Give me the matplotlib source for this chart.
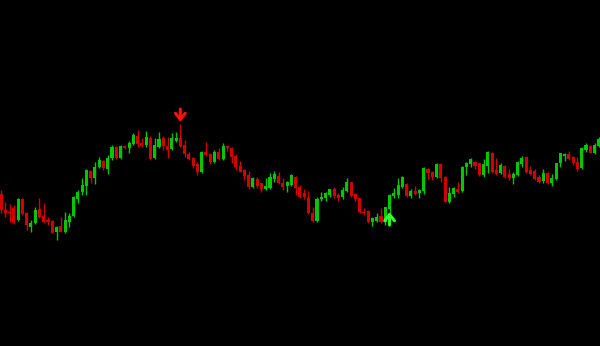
import matplotlib
matplotlib.use("Agg")
import matplotlib.pyplot as plt
import numpy as np

# OHLC (price units, arbitrary scale)
opens = [152, 136, 134, 138, 126, 147, 133, 119, 123, 137, 130, 126, 125, 114, 120, 114, 124, 130, 147, 154,
         160, 175, 168, 179, 185, 177, 188, 199, 188, 200, 198, 202, 210, 203, 201, 208, 188, 199, 208, 200,
         197, 205, 208, 201, 192, 188, 182, 174, 194, 192, 184, 194, 187, 200, 198, 190, 180, 176, 171, 159,
         167, 163, 157, 158, 167, 170, 163, 160, 161, 169, 159, 153, 148, 133, 125, 147, 148, 151, 157, 151,
         149, 155, 164, 152, 148, 134, 135, 124, 125, 130, 124, 137, 150, 151, 159, 162, 150, 155, 153, 155,
         177, 174, 169, 182, 169, 144, 152, 157, 155, 179, 182, 184, 183, 171, 180, 193, 176, 173, 180, 172,
         168, 171, 182, 189, 176, 175, 169, 165, 173, 163, 167, 183, 190, 192, 189, 184, 178, 196, 200, 193,
         200]
highs = [156, 144, 142, 141, 148, 148, 134, 126, 139, 148, 143, 129, 126, 120, 129, 134, 133, 150, 156, 168,
         177, 176, 184, 189, 186, 191, 201, 200, 201, 201, 205, 213, 216, 208, 215, 210, 208, 214, 210, 209,
         213, 214, 222, 206, 194, 189, 184, 195, 204, 193, 196, 198, 203, 200, 199, 192, 185, 177, 175, 169,
         169, 163, 168, 173, 175, 174, 168, 165, 172, 170, 161, 157, 155, 139, 149, 154, 154, 157, 159, 153,
         159, 168, 164, 153, 148, 138, 136, 129, 133, 138, 139, 152, 158, 168, 170, 163, 157, 160, 157, 179,
         178, 175, 183, 183, 170, 159, 159, 164, 180, 184, 188, 185, 183, 187, 195, 194, 188, 183, 181, 177,
         174, 185, 190, 190, 180, 177, 171, 177, 174, 172, 183, 193, 193, 195, 190, 189, 199, 203, 201, 203,
         209]
lows = [133, 129, 124, 122, 125, 131, 116, 114, 122, 128, 123, 121, 113, 106, 114, 113, 119, 129, 143, 151,
        151, 163, 162, 178, 176, 172, 186, 187, 187, 197, 193, 201, 199, 199, 199, 186, 187, 198, 196, 188,
        196, 204, 199, 189, 186, 178, 171, 173, 190, 182, 183, 186, 186, 195, 183, 176, 174, 166, 157, 158,
        158, 154, 156, 157, 164, 162, 156, 154, 160, 151, 148, 147, 132, 124, 124, 145, 145, 149, 148, 145,
        147, 154, 149, 145, 133, 131, 123, 120, 124, 123, 121, 133, 148, 148, 158, 149, 148, 151, 148, 152,
        167, 166, 168, 164, 144, 143, 149, 153, 154, 171, 179, 177, 170, 169, 173, 173, 171, 172, 168, 166,
        162, 170, 179, 173, 171, 166, 163, 163, 162, 160, 166, 179, 185, 186, 181, 175, 177, 194, 193, 192,
        199]
closes = [136, 133, 133, 123, 147, 132, 121, 123, 136, 129, 124, 124, 113, 119, 114, 126, 130, 149, 154, 161,
          176, 168, 179, 186, 178, 188, 199, 188, 200, 198, 203, 211, 202, 200, 209, 187, 201, 207, 200, 196,
          208, 208, 200, 192, 187, 180, 174, 194, 191, 184, 194, 187, 200, 198, 189, 179, 174, 170, 159, 168,
          160, 157, 160, 169, 172, 163, 159, 164, 171, 158, 149, 149, 133, 125, 147, 149, 153, 157, 150, 148,
          156, 164, 150, 147, 134, 133, 124, 128, 129, 124, 139, 151, 153, 161, 169, 150, 155, 152, 156, 178,
          173, 169, 182, 168, 144, 153, 158, 154, 179, 183, 187, 180, 171, 182, 194, 174, 172, 181, 169, 168,
          172, 184, 188, 174, 172, 167, 164, 173, 163, 168, 183, 193, 192, 187, 183, 177, 198, 201, 193, 201,
          207]

# signal arrows: (bar index, tail price, tip price)
sell_signal = (42, 237, 224)
buy_signal = (91, 121, 134)

UP = "#00C800"
DOWN = "#D20000"

fig = plt.figure(figsize=(6.0, 3.46), dpi=100)
fig.patch.set_facecolor("black")
ax = fig.add_axes([0, 0, 1, 1])
ax.set_facecolor("black")

o = np.array(opens, dtype=float)
h = np.array(highs, dtype=float)
l = np.array(lows, dtype=float)
c = np.array(closes, dtype=float)
x = np.arange(len(o))
cols = [UP if cc >= oo else DOWN for oo, cc in zip(o, c)]

ax.vlines(x, l, h, colors=cols, linewidth=1.0)
body_lo = np.minimum(o, c)
body_h = np.maximum(np.abs(c - o), 0.9)
ax.bar(x, body_h, bottom=body_lo, width=0.72, color=cols, linewidth=0)

for (i, tail, tip), col in [(sell_signal, "#FF1010"), (buy_signal, "#30FF30")]:
    ax.annotate("", xy=(i, tip), xytext=(i, tail),
                arrowprops=dict(arrowstyle="->,head_length=0.45,head_width=0.35",
                                color=col, lw=2.2, shrinkA=0, shrinkB=0))

step = 4.27
x0 = -1.0 / step
ax.set_xlim(x0, x0 + 600 / step)
ax.set_ylim(0, 346)
ax.axis("off")

fig.savefig("out.png", dpi=100, facecolor="black")
